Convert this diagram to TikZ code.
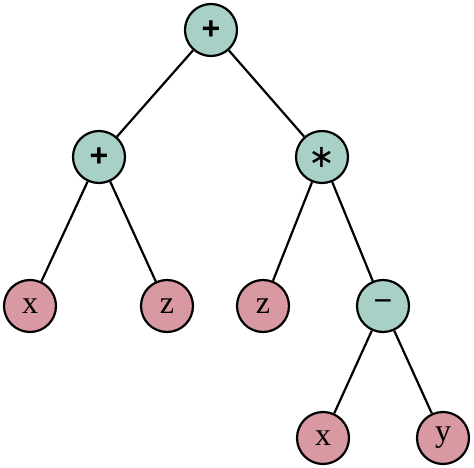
\documentclass[tikz,border=0pt]{standalone}
\usepackage{fontspec}
\setmainfont{Liberation Serif}
\newfontfamily\opfont{Liberation Sans}
\newfontfamily\symfont{DejaVu Sans}
\usetikzlibrary{positioning}
\definecolor{opgreen}{RGB}{168,208,199}
\definecolor{varpink}{RGB}{216,153,162}

\begin{document}
\begin{tikzpicture}[x=1pt,y=-1pt,line width=2.2pt,
  op/.style={circle,draw,fill=opgreen,minimum size=52pt,inner sep=0pt,font=\fontsize{32}{34}\selectfont},
  var/.style={circle,draw,fill=varpink,minimum size=52pt,inner sep=0pt,font=\fontsize{32}{34}\selectfont},
  on grid]
  \useasboundingbox (0,0) rectangle (474,468);
  \node[op] (a) at (211,30) {\opfont\bfseries +};
  \node[op] (b) [below left =127pt and 112pt of a] {\opfont\bfseries +};
  \node[op] (c) [below right =127pt and 111pt of a] {\symfont ∗};
  \node[var] (d) [below left =149pt and 69pt of b] {x};
  \node[var] (e) [below right =149pt and 68pt of b] {z};
  \node[var] (f) [below left =149pt and 59pt of c] {z};
  \node[op] (g) [below right =149pt and 61pt of c] {\opfont −};
  \node[var] (h) [below left =132pt and 60pt of g] {x};
  \node[var] (i) [below right =132pt and 60pt of g] {y};
  \draw(a)--(b);
  \draw(a)--(c);
  \draw(b)--(d);
  \draw(b)--(e);
  \draw(c)--(f);
  \draw(c)--(g);
  \draw(g)--(h);
  \draw(g)--(i);
\end{tikzpicture}
\end{document}
